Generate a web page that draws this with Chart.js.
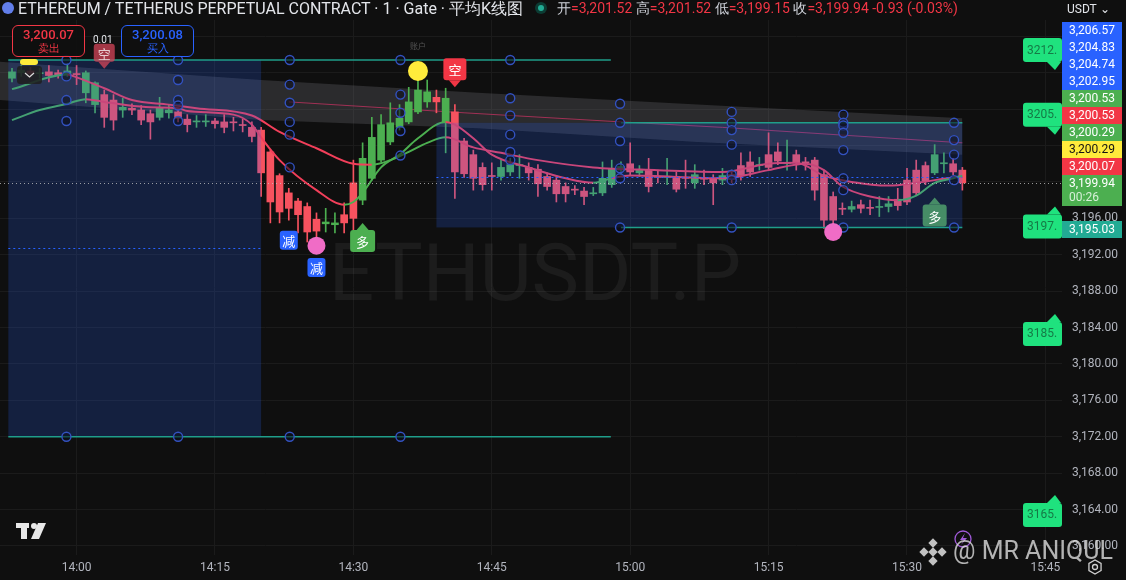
<!DOCTYPE html>
<html>
<head>
<meta charset="utf-8">
<title>ETHUSDT.P 1m</title>
<script src="https://cdn.jsdelivr.net/npm/chart.js"></script>
<style>
  html, body { margin: 0; padding: 0; background: #0f0f0f; overflow: hidden; }
  body { font-family: Roboto, "Noto Sans", Arial, sans-serif; }
  #wrap { position: relative; width: 1126px; height: 580px; }
  #chart { position: absolute; left: 0; top: 0; }
  .hdr { position: absolute; top: 0; height: 17px; line-height: 17px; white-space: nowrap; z-index: 2; }
  #title { left: 18px; font-size: 16px; color: #e3e5ea; }
  #icon { position: absolute; left: 2px; top: 2px; width: 12px; height: 12px; border-radius: 6px; background: #627eea; z-index: 2; }
  #dot { position: absolute; left: 535px; top: 2px; width: 12px; height: 12px; border-radius: 6px; background: #0c3b33; z-index: 2; }
  #dot::after { content: ""; position: absolute; left: 3px; top: 3px; width: 6px; height: 6px; border-radius: 3px; background: #22ab94; }
  #ohlc { left: 557px; font-size: 14px; color: #f23645; }
  #ohlc b { font-weight: normal; color: #d1d4dc; }
  #cur { position: absolute; left: 1063px; top: 0; width: 56px; height: 18px; font-size: 12px; line-height: 18px; color: #e3e5ea; z-index: 2; padding-left: 4px; box-sizing: border-box; }
  .tbox { position: absolute; top: 25px; width: 73px; height: 32px; border-radius: 6px; box-sizing: border-box; text-align: center; background: rgba(15,15,15,0.9); z-index: 2; }
  .tbox .v { font-size: 13px; line-height: 15px; padding-top: 1px; font-weight: 500; }
  .tbox .l { font-size: 11px; line-height: 13px; }
  #sell { left: 12px; border: 1px solid #f23645; color: #f23645; }
  #buy { left: 121px; border: 1px solid #2962ff; color: #2962ff; }
  #qty { position: absolute; left: 93px; top: 34px; font-size: 10px; color: #e3e5ea; z-index: 2; }
</style>
</head>
<body>
<div id="wrap">
  <canvas id="chart" width="1126" height="580"></canvas>
  <div id="icon"></div>
  <div class="hdr" id="title">ETHEREUM / TETHERUS PERPETUAL CONTRACT · 1 · Gate · 平均K线图</div>
  <div id="dot"></div>
  <div class="hdr" id="ohlc"><b>开</b>=3,201.52 <b>高</b>=3,201.52 <b>低</b>=3,199.15 <b>收</b>=3,199.94 -0.93 (-0.03%)</div>
  <div id="cur">USDT &#8964;</div>
  <div class="tbox" id="sell"><div class="v">3,200.07</div><div class="l">卖出</div></div>
  <div id="qty">0.01</div>
  <div class="tbox" id="buy"><div class="v">3,200.08</div><div class="l">买入</div></div>
</div>
<script>
// minutes relative to 14:00, first Heikin Ashi candle is 13:53
var firstMinute = -7;
var haOpen = [3211.4,3212.0,3212.2,3211.9,3212.1,3212.0,3211.9,3211.9,3209.8,3208.5,3209.6,3209.0,3207.9,3208.1,3207.9,3207.5,3207.1,3207.6,3207.7,3206.9,3206.6,3206.6,3206.7,3206.6,3206.6,3206.3,3206.0,
  3205.7,3203.3,3200.7,3198.8,3197.9,3197.3,3195.9,3195.4,3195.3,3196.4,3199.9,3198.0,3200.4,3202.4,3204.4,3206.0,3206.6,3207.7,3208.8,3209.3,3206.5,3207.7,3204.5,3203.0,3201.6,3200.7,3200.6,3201.1,3201.8,3201.6,
  3201.4,3200.6,3200.2,3199.5,3199.2,3199.0,3198.7,3198.8,3199.7,3201.3,3202.0,3201.0,3201.3,3200.6,3200.5,3200.6,3200.5,3199.9,3200.4,3200.4,3200.2,3200.8,3201.8,3202.2,3201.8,3203.0,3203.3,3202.0,3203.0,3202.2,
  3202.4,3200.8,3198.4,3197.1,3197.0,3197.5,3197.2,3197.2,3197.3,3198.1,3200.2,3201.3,3201.8,3201.0,3202.0,3202.0,3201.3];
var haHigh = [3212.5,3212.8,3212.6,3212.5,3212.8,3212.3,3213.0,3212.8,3212.2,3211.0,3210.1,3209.6,3209.2,3208.6,3208.4,3207.9,3209.3,3208.5,3208.0,3207.4,3207.3,3207.4,3207.0,3207.4,3207.1,3206.9,3206.6,
  3206.0,3203.5,3200.9,3199.3,3198.2,3197.7,3196.6,3197.1,3196.6,3197.7,3202.4,3204.3,3207.1,3207.4,3208.7,3208.5,3210.4,3211.5,3211.2,3210.1,3210.3,3208.5,3204.8,3203.5,3202.1,3202.1,3202.4,3202.6,3203.0,3202.1,
  3201.9,3201.0,3200.7,3199.9,3199.6,3199.4,3199.4,3202.2,3202.4,3202.2,3204.3,3201.8,3202.6,3201.3,3202.6,3201.1,3202.4,3201.9,3201.3,3200.8,3201.5,3201.3,3203.2,3203.3,3202.7,3205.4,3204.3,3204.6,3203.5,3202.7,
  3202.7,3201.3,3198.9,3197.7,3197.9,3198.0,3198.0,3198.4,3198.4,3199.3,3201.5,3202.4,3202.2,3204.1,3203.2,3202.6,3201.6];
var haLow = [3211.0,3211.6,3211.5,3211.4,3211.0,3211.4,3211.6,3210.7,3208.7,3207.6,3206.0,3205.7,3207.1,3207.4,3206.3,3204.7,3206.8,3207.0,3206.6,3205.5,3206.0,3206.1,3205.9,3205.4,3205.6,3205.5,3204.4,
  3198.4,3195.5,3195.5,3195.8,3194.4,3193.4,3192.9,3194.5,3194.4,3194.4,3194.4,3197.5,3200.2,3202.2,3204.1,3205.7,3206.4,3207.5,3208.2,3207.6,3203.2,3198.2,3200.5,3199.1,3199.1,3199.1,3200.2,3200.7,3200.4,3200.2,
  3198.4,3199.1,3197.8,3197.8,3198.6,3197.5,3198.5,3198.5,3199.4,3200.8,3200.8,3200.6,3198.9,3199.9,3199.7,3198.9,3199.3,3199.3,3199.7,3197.5,3199.7,3199.9,3200.2,3200.6,3201.3,3201.3,3201.9,3201.3,3201.3,3201.3,
  3198.0,3194.9,3195.3,3196.4,3196.7,3196.6,3196.4,3196.2,3196.7,3196.9,3197.5,3198.6,3199.7,3200.8,3201.0,3200.8,3199.1];
var haClose = [3212.1,3212.3,3211.9,3212.0,3211.7,3211.7,3212.2,3211.8,3212.0,3210.9,3207.1,3206.8,3208.2,3207.9,3206.8,3206.6,3208.1,3207.9,3207.0,3206.3,3206.7,3206.7,3206.4,3206.0,3206.5,3206.2,3205.0,
  3201.0,3197.8,3196.7,3197.1,3196.4,3194.5,3194.6,3195.6,3195.5,3195.5,3196.0,3202.6,3204.9,3206.3,3206.5,3207.0,3208.8,3210.1,3209.9,3208.8,3209.2,3201.1,3200.9,3200.4,3199.7,3200.6,3201.6,3201.9,3201.9,3201.0,
  3199.8,3199.5,3198.7,3198.7,3199.1,3198.4,3198.8,3200.4,3201.5,3201.7,3201.1,3201.3,3199.5,3200.5,3200.6,3199.2,3200.4,3200.8,3200.3,3199.9,3200.7,3200.3,3200.7,3201.1,3201.9,3201.6,3202.3,3202.1,3202.1,3202.1,
  3199.1,3195.8,3195.8,3197.0,3197.3,3197.1,3197.1,3197.3,3197.6,3197.4,3197.8,3198.8,3200.1,3203.0,3202.1,3201.1,3199.9];

// moving averages (minute, price)
var maSlowT = [-7,-1,0,3,6,10,13,19,22,26,30,32,34,36,38,40,43,46,50,56,63,70,75,78,81,84,88,91,95,96];
var maSlowV = [3210.2,3211.8,3211.5,3210.3,3209.0,3208.5,3208.1,3207.3,3205.5,3203.7,3202.0,3201.9,3202.4,3203.3,3204.3,3204.9,3203.8,3203.2,3202.4,3201.6,3201.3,3201.1,3202.0,3202.1,3200.7,3200.0,3199.6,3199.9,3200.5,3200.6];
var maFastT = [-7,-4,-1,1,3,5,8,11,12,17,19,20,22,26,29,30,31,33,35,37,40,41,43,45,49,53,56,58,60,70,75,79,81,83,86,89,91,93,95,96];
var maFastV = [3206.8,3207.9,3208.6,3209.1,3208.8,3208.5,3208.2,3208.1,3207.8,3207.4,3206.3,3204.9,3202.4,3199.1,3197.5,3197.8,3198.8,3201.6,3203.0,3204.8,3206.6,3206.3,3204.8,3203.0,3201.6,3200.4,3199.9,3200.4,3200.7,3200.4,3201.3,3202.0,3201.3,3199.5,3198.4,3198.0,3198.5,3199.9,3200.4,3200.7];

// gray ribbon and its mid line
var bandT = [-8.3, 20, 43.5, 67.3, 96];
var bandTop = [3213.2, 3211.2, 3209.8, 3208.5, 3207.0];
var bandBot = [3209.0, 3206.8, 3205.9, 3204.4, 3203.0];
var bandMidT = [23, 42, 59, 70, 96];
var bandMid = [3208.8, 3207.6, 3206.6, 3206.0, 3204.3];

// rectangles: [fromMin, toMin, topPrice, bottomPrice]
var boxes = [[-7.4, 20, 3213.4, 3172.0], [39, 96, 3206.5, 3195.0]];
// teal horizontal segments: [fromMin, toMin, price]
var tealLines = [[-7.4, 57.9, 3213.4], [-7.4, 57.9, 3172.0], [59, 96, 3206.5], [59, 96, 3195.0]];
// blue dotted segments
var blueDots = [[-7.4, 20, 3192.75], [39, 96, 3200.53]];
var lastPrice = 3199.94;

// drawing handles
var handleT = [-1.1,-1.1,-1.1,-1.1, 11,11,11,11,11, 23.1,23.1,23.1,23.1,23.1,23.1, 35.1,35.1,35.1,35.1,35.1, 47,47,47,47,47,47,
  58.9,58.9,58.9,58.9,58.9,58.9, 71,71,71,71,71,71,71, 83.1,83.1,83.1,83.1,83.1,83.1,83.1,83.1, 95.1,95.1,95.1,95.1,95.1, -1.1,11,23.1,35.1];
var handleP = [3213.4,3211.6,3209.0,3206.7, 3213.4,3211.2,3209.0,3208.4,3206.7, 3213.4,3210.7,3208.7,3206.6,3205.2,3201.6, 3213.4,3209.6,3207.6,3205.6,3202.9, 3213.4,3209.2,3207.3,3205.2,3203.3,3202.4,
  3208.6,3206.5,3204.5,3201.5,3200.4,3195.0, 3207.7,3206.5,3205.7,3204.1,3200.8,3200.2,3195.0, 3207.4,3206.5,3206.2,3205.4,3203.5,3200.4,3199.1,3195.0, 3206.5,3204.6,3203.0,3200.2,3195.0, 3172.0,3172.0,3172.0,3172.0];

// signal markers: [minute, price, text, kind]
var signals = [[41, 3212.4, '空', 'short'], [3, 3214.2, '空', 'shortDim'], [31, 3193.5, '多', 'long'], [93, 3196.3, '多', 'longDim'],
  [23, 3193.6, '减', 'reduce'], [26, 3190.6, '减', 'reduce']];
var dots = [[37, 3212.2, '#ffeb3b', 10], [26, 3193.0, '#f06cc6', 9], [82, 3194.5, '#f06cc6', 9]];

// right scale tags
var axisTags = [['3,206.57','#2962ff','#fff'],['3,204.83','#2962ff','#fff'],['3,204.74','#2962ff','#fff'],['3,202.95','#2962ff','#fff'],
  ['3,200.53','#4caf50','#fff'],['3,200.53','#f23645','#fff'],['3,200.29','#4caf50','#fff'],['3,200.29','#ffeb3b','#131313'],['3,200.07','#f23645','#fff']];
var alertPrices = [3212.3, 3205.2, 3197.3, 3185.5, 3165.6];
var alertText = ['3212.', '3205.', '3197.', '3185.', '3165.'];
var alertUp = [false, false, true, true, true];

var xTicks = [0, 15, 30, 45, 60, 75, 90, 105];
var yTicks = [3160,3164,3168,3172,3176,3180,3184,3188,3192,3196,3200,3204,3208,3212,3216];

var GREEN = '#4caf50', RED = '#f7525f', MA_UP = '#4caf50', MA_DOWN = '#f23f5a';

var mins = haOpen.map(function(_, i) { return firstMinute + i; });
var candleColor = haOpen.map(function(o, i) { return haClose[i] >= o ? GREEN : RED; });
function pts(t, v) { return t.map(function(x, i) { return {x: x, y: v[i]}; }); }
function maSeg(c) {
  var s = (c.p1.parsed.y - c.p0.parsed.y) / (c.p1.parsed.x - c.p0.parsed.x);
  return s > 0.2 ? MA_UP : MA_DOWN;
}
function hhmm(m) {
  var t = 14 * 60 + m, h = Math.floor(t / 60), mm = t % 60;
  return h + ':' + (mm < 10 ? '0' : '') + mm;
}
function rr(ctx, x, y, w, h, r) {
  ctx.beginPath();
  ctx.moveTo(x + r, y); ctx.lineTo(x + w - r, y); ctx.quadraticCurveTo(x + w, y, x + w, y + r);
  ctx.lineTo(x + w, y + h - r); ctx.quadraticCurveTo(x + w, y + h, x + w - r, y + h);
  ctx.lineTo(x + r, y + h); ctx.quadraticCurveTo(x, y + h, x, y + h - r);
  ctx.lineTo(x, y + r); ctx.quadraticCurveTo(x, y, x + r, y); ctx.closePath();
}

var backdrop = {
  id: 'backdrop',
  beforeDatasetsDraw: function(chart) {
    var ctx = chart.ctx;
    ctx.save();
    ctx.font = '80px Roboto, sans-serif';
    ctx.fillStyle = 'rgba(255,255,255,0.055)';
    ctx.textAlign = 'center'; ctx.textBaseline = 'middle';
    ctx.fillText('ETHUSDT.P', 535, 280);
    ctx.restore();
  }
};

var drawings = {
  id: 'drawings',
  afterDatasetsDraw: function(chart) {
    var ctx = chart.ctx, xs = chart.scales.x, ys = chart.scales.y, a = chart.chartArea;
    ctx.save();
    // rectangles
    ctx.fillStyle = 'rgba(41,98,255,0.2)';
    boxes.forEach(function(b) {
      var x0 = xs.getPixelForValue(b[0]), x1 = xs.getPixelForValue(b[1]);
      var y0 = ys.getPixelForValue(b[2]), y1 = ys.getPixelForValue(b[3]);
      ctx.fillRect(x0, y0, x1 - x0, y1 - y0);
    });
    // last price dotted line
    ctx.strokeStyle = 'rgba(200,200,200,0.75)'; ctx.lineWidth = 1; ctx.setLineDash([1, 3]);
    var yl = Math.round(ys.getPixelForValue(lastPrice)) + 0.5;
    ctx.beginPath(); ctx.moveTo(a.left, yl); ctx.lineTo(a.right, yl); ctx.stroke();
    ctx.strokeStyle = '#2962ff'; ctx.setLineDash([2, 3]);
    blueDots.forEach(function(d) {
      var y = Math.round(ys.getPixelForValue(d[2])) + 0.5;
      ctx.beginPath(); ctx.moveTo(xs.getPixelForValue(d[0]), y); ctx.lineTo(xs.getPixelForValue(d[1]), y); ctx.stroke();
    });
    ctx.setLineDash([]);
    ctx.strokeStyle = '#1f9e8a'; ctx.lineWidth = 1.5;
    tealLines.forEach(function(l) {
      var y = ys.getPixelForValue(l[2]);
      ctx.beginPath(); ctx.moveTo(xs.getPixelForValue(l[0]), y); ctx.lineTo(xs.getPixelForValue(l[1]), y); ctx.stroke();
    });
    // handles
    ctx.lineWidth = 1.4; ctx.strokeStyle = '#3352c0'; ctx.fillStyle = 'rgba(12,14,30,0.55)';
    handleT.forEach(function(t, i) {
      ctx.beginPath(); ctx.arc(xs.getPixelForValue(t), ys.getPixelForValue(handleP[i]), 4.5, 0, Math.PI * 2);
      ctx.fill(); ctx.stroke();
    });
    // circles
    dots.forEach(function(d) {
      ctx.fillStyle = d[2];
      ctx.beginPath(); ctx.arc(xs.getPixelForValue(d[0]), ys.getPixelForValue(d[1]), d[3], 0, Math.PI * 2); ctx.fill();
    });
    ctx.font = '8px "Noto Sans CJK SC", sans-serif'; ctx.fillStyle = 'rgba(200,200,200,0.35)';
    ctx.textAlign = 'center'; ctx.fillText('账户', xs.getPixelForValue(37), 49);
    // signal badges
    ctx.textBaseline = 'middle';
    signals.forEach(function(s) {
      var cx = xs.getPixelForValue(s[0]), cy = ys.getPixelForValue(s[1]);
      var kind = s[3], w = 23, h = 22, col;
      if (kind === 'short') col = '#f23645';
      else if (kind === 'shortDim') { col = 'rgba(214,70,90,0.75)'; w = 21; h = 18; }
      else if (kind === 'long') { col = '#4caf50'; w = 25; }
      else if (kind === 'longDim') { col = 'rgba(80,160,110,0.85)'; w = 24; }
      else { col = '#2962ff'; w = 18; h = 19; }
      ctx.fillStyle = col;
      rr(ctx, cx - w / 2, cy - h / 2, w, h, 3); ctx.fill();
      ctx.beginPath();
      if (kind === 'short' || kind === 'shortDim') {
        ctx.moveTo(cx - 6, cy + h / 2); ctx.lineTo(cx + 6, cy + h / 2); ctx.lineTo(cx, cy + h / 2 + 7);
      } else if (kind === 'long' || kind === 'longDim') {
        ctx.moveTo(cx - 6, cy - h / 2); ctx.lineTo(cx + 6, cy - h / 2); ctx.lineTo(cx, cy - h / 2 - 7);
      }
      ctx.fill();
      ctx.fillStyle = kind === 'shortDim' ? 'rgba(255,255,255,0.75)' : '#fff';
      ctx.font = '13px "Noto Sans CJK SC", sans-serif';
      ctx.fillText(s[2], cx, cy + 1);
    });
    // small yellow marker and collapse button
    ctx.fillStyle = '#ffeb3b'; rr(ctx, 20, 59, 18, 6, 3); ctx.fill();
    ctx.fillStyle = 'rgba(30,30,30,0.85)'; rr(ctx, 17, 66, 25, 18, 3); ctx.fill();
    ctx.strokeStyle = '#ddd'; ctx.lineWidth = 1.2;
    ctx.beginPath(); ctx.moveTo(25, 73); ctx.lineTo(29.5, 77); ctx.lineTo(34, 73); ctx.stroke();
    ctx.restore();
  },
  afterDraw: function(chart) {
    var ctx = chart.ctx, ys = chart.scales.y;
    ctx.save();
    ctx.font = '12px Roboto, sans-serif'; ctx.textBaseline = 'middle'; ctx.textAlign = 'left';
    var y = 22, h = 17;
    axisTags.forEach(function(t) {
      ctx.fillStyle = t[1]; ctx.fillRect(1062, y, 60, h);
      ctx.fillStyle = t[2]; ctx.fillText(t[0], 1069, y + h / 2 + 0.5);
      y += h;
    });
    ctx.fillStyle = '#4caf50'; ctx.fillRect(1062, y, 60, 31);
    ctx.fillStyle = '#fff'; ctx.fillText('3,199.94', 1069, y + 9);
    ctx.fillStyle = '#d6f0d8'; ctx.fillText('00:26', 1069, y + 23);
    ctx.fillStyle = '#22ab94'; ctx.fillRect(1062, 221, 60, 17);
    ctx.fillStyle = '#fff'; ctx.fillText('3,195.03', 1069, 230);
    // alert bubbles
    alertPrices.forEach(function(p, i) {
      var tip = ys.getPixelForValue(p), top;
      ctx.fillStyle = '#1fe27e';
      ctx.beginPath();
      if (alertUp[i]) {
        top = tip + 8;
        ctx.moveTo(1047, top); ctx.lineTo(1055, tip); ctx.lineTo(1061, top);
      } else {
        top = tip - 8 - 24;
        ctx.moveTo(1047, top + 24); ctx.lineTo(1055, tip); ctx.lineTo(1061, top + 24);
      }
      ctx.fill();
      rr(ctx, 1023, top, 39, 24, 3); ctx.fill();
      ctx.save();
      ctx.beginPath(); ctx.rect(1023, top, 39, 24); ctx.clip();
      ctx.fillStyle = '#157a46'; ctx.fillText(alertText[i], 1027, top + 12.5);
      ctx.restore();
    });
    // logos and signature
    ctx.fillStyle = '#e8e8e8';
    ctx.fillRect(16, 523, 13, 5); ctx.fillRect(21, 523, 6, 16);
    ctx.beginPath(); ctx.arc(34, 526, 3, 0, Math.PI * 2); ctx.fill();
    ctx.beginPath(); ctx.moveTo(38, 523); ctx.lineTo(46, 523); ctx.lineTo(39, 539); ctx.lineTo(31, 539); ctx.closePath(); ctx.fill();
    ctx.fillStyle = 'rgba(225,225,225,0.85)';
    [[933, 543], [924, 552], [942, 552], [933, 561], [933, 552]].forEach(function(c) {
      ctx.save(); ctx.translate(c[0], c[1]); ctx.rotate(Math.PI / 4); ctx.fillRect(-3.3, -3.3, 6.6, 6.6); ctx.restore();
    });
    ctx.strokeStyle = '#a05ad8'; ctx.lineWidth = 1.3;
    ctx.beginPath(); ctx.arc(963, 539, 8, 0, Math.PI * 2); ctx.stroke();
    ctx.fillStyle = '#a05ad8';
    ctx.beginPath(); ctx.moveTo(965, 533); ctx.lineTo(960, 540); ctx.lineTo(964, 540); ctx.lineTo(961, 545); ctx.lineTo(967, 538); ctx.lineTo(963, 538); ctx.closePath(); ctx.fill();
    ctx.strokeStyle = '#cfcfcf'; ctx.lineWidth = 1.3;
    ctx.beginPath();
    for (var k = 0; k < 6; k++) {
      var ang = Math.PI / 6 + k * Math.PI / 3;
      var px = 1095 + 7 * Math.cos(ang), py = 567 + 7 * Math.sin(ang);
      if (k === 0) ctx.moveTo(px, py); else ctx.lineTo(px, py);
    }
    ctx.closePath(); ctx.stroke();
    ctx.beginPath(); ctx.arc(1095, 567, 2.5, 0, Math.PI * 2); ctx.stroke();
    ctx.font = '25px Roboto, sans-serif'; ctx.fillStyle = 'rgba(220,220,220,0.8)';
    ctx.fillText('@ MR ANIQUL', 953, 553);
    ctx.restore();
  }
};

new Chart(document.getElementById('chart'), {
  data: {
    datasets: [
      { type: 'line', data: pts(maFastT, maFastV), borderWidth: 2, pointRadius: 0, cubicInterpolationMode: 'monotone',
        segment: { borderColor: maSeg }, borderColor: MA_DOWN, order: 1 },
      { type: 'line', data: pts(maSlowT, maSlowV), borderWidth: 2, pointRadius: 0, cubicInterpolationMode: 'monotone',
        segment: { borderColor: maSeg }, borderColor: MA_DOWN, order: 2 },
      { type: 'bar', data: mins.map(function(m, i) { return {x: m, y: [haOpen[i], haClose[i]]}; }),
        backgroundColor: candleColor, barThickness: 7, minBarLength: 1, grouped: false, borderSkipped: false, order: 4 },
      { type: 'bar', data: mins.map(function(m, i) { return {x: m, y: [haLow[i], haHigh[i]]}; }),
        backgroundColor: candleColor, barThickness: 1, grouped: false, borderSkipped: false, order: 5 },
      { type: 'line', data: pts(bandMidT, bandMid), borderColor: 'rgba(190,50,95,0.8)', borderWidth: 1, pointRadius: 0, order: 6 },
      { type: 'line', data: pts(bandT, bandTop), borderWidth: 0, pointRadius: 0, fill: false, order: 7 },
      { type: 'line', data: pts(bandT, bandBot), borderWidth: 0, pointRadius: 0, fill: '-1',
        backgroundColor: 'rgba(125,125,130,0.26)', order: 8 }
    ]
  },
  options: {
    responsive: false,
    animation: false,
    layout: { padding: { top: 20, left: 0, right: 0, bottom: 0 } },
    plugins: { legend: { display: false }, tooltip: { enabled: false } },
    scales: {
      x: {
        type: 'linear', min: -8.3, max: 106.8, offset: false, bounds: 'ticks',
        afterBuildTicks: function(s) { s.ticks = xTicks.map(function(v) { return {value: v}; }); },
        afterDataLimits: function(s) { s.min = -8.3; s.max = 106.8; },
        afterFit: function(s) { s.height = 25; },
        grid: { color: '#1b1b1b', drawTicks: false, offset: false },
        border: { display: false },
        ticks: { color: '#b2b5be', font: { size: 12, family: 'Roboto' }, padding: 6, maxRotation: 0,
          callback: function(v) { return hhmm(v); } }
      },
      y: {
        position: 'right', min: 3159.0, max: 3217.8,
        afterBuildTicks: function(s) { s.ticks = yTicks.map(function(v) { return {value: v}; }); },
        afterFit: function(s) { s.width = 64; },
        grid: { color: '#1b1b1b', drawTicks: false },
        border: { display: false },
        ticks: { color: '#b2b5be', font: { size: 12, family: 'Roboto' }, padding: 10,
          callback: function(v) { return v.toLocaleString('en-US', {minimumFractionDigits: 2, maximumFractionDigits: 2}); } }
      }
    }
  },
  plugins: [backdrop, drawings]
});
</script>
</body>
</html>
